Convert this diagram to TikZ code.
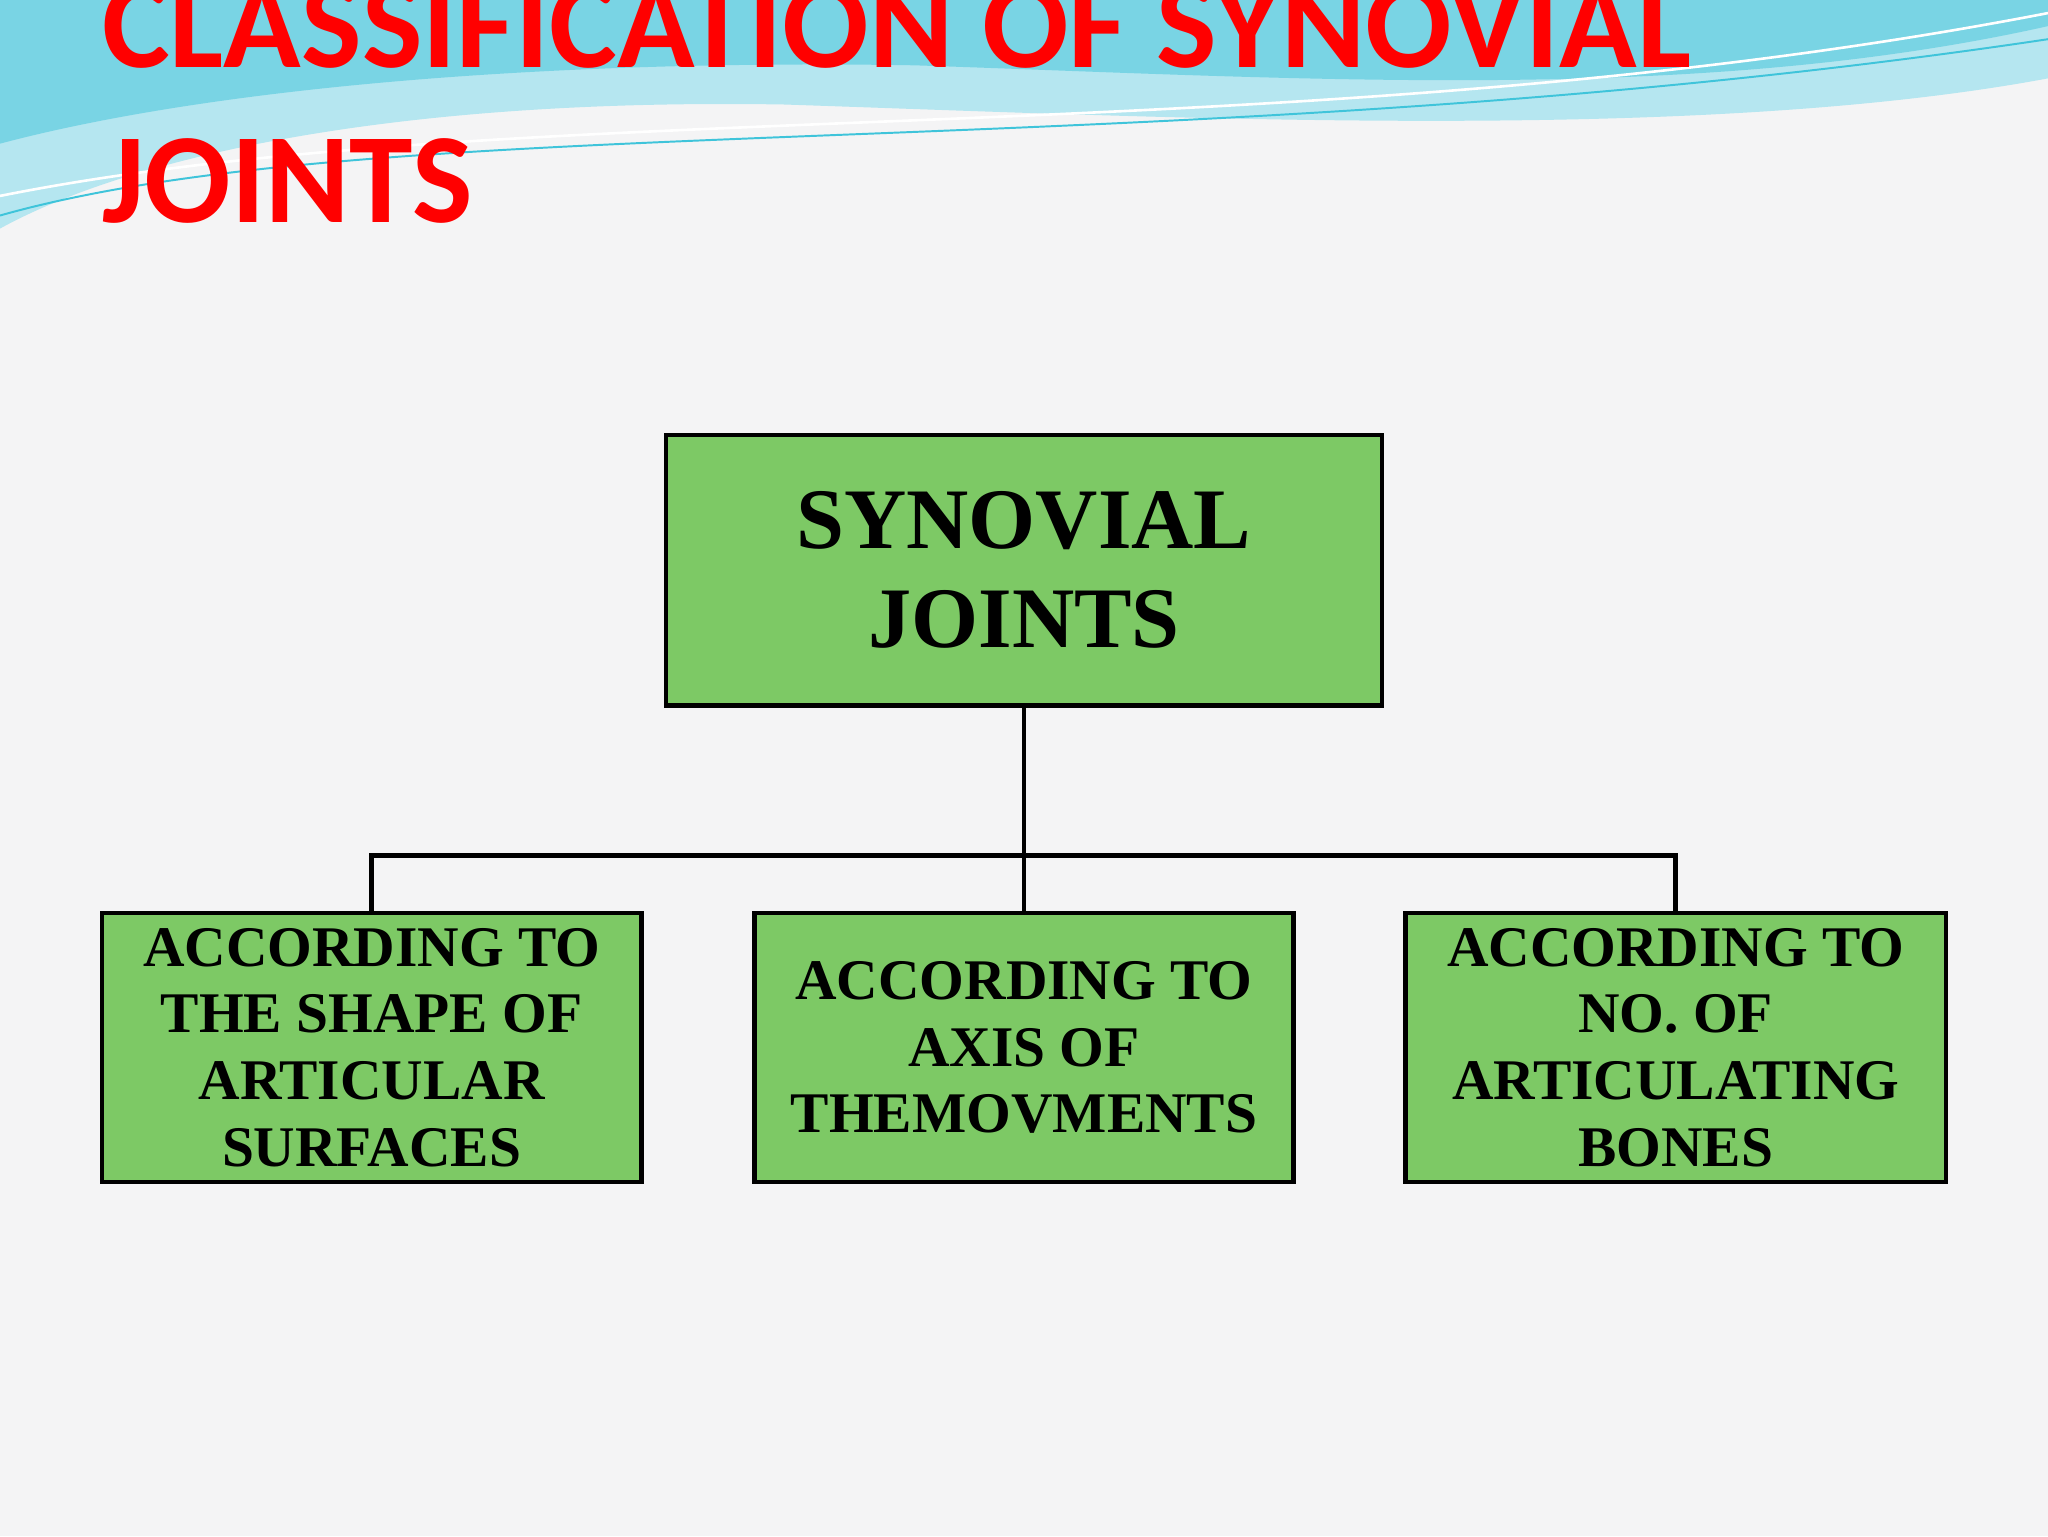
\documentclass[tikz,border=0pt]{standalone}
\usepackage{fontspec}
\setmainfont{Liberation Serif}
\newfontfamily\titlefont{Carlito}
\tikzset{
 box/.style={draw=black,line width=3.5pt,fill=boxgreen,align=center,inner sep=0pt,font=\bfseries\fontsize{44}{51}\selectfont},
 conn/.style={draw=black,line width=3.5pt}
}
\definecolor{boxgreen}{HTML}{7DC965}
\definecolor{bg}{HTML}{F4F4F5}
\definecolor{wave1}{HTML}{3FC4DA}
\definecolor{wave2}{HTML}{B5E6F0}
\begin{document}
\begin{tikzpicture}[x=1pt,y=-1pt]
\fill[bg] (0,0) rectangle (1568,1176);
\useasboundingbox (0,0) rectangle (1568,1176);
% top wave
\fill[wave2] (0,0) -- (1568,0) -- (1568,60) .. controls (1300,110) and (900,90) .. (600,80) .. controls (300,75) and (100,120) .. (0,175) -- cycle;
\fill[wave1,opacity=0.5] (0,0) -- (1568,0) -- (1568,20) .. controls (1300,80) and (1000,60) .. (700,50) .. controls (400,45) and (150,70) .. (0,110) -- cycle;
\draw[wave1,line width=1.5pt] (0,165) .. controls (300,80) and (900,130) .. (1568,30);
\draw[white,line width=2pt] (0,150) .. controls (400,70) and (1000,120) .. (1568,10);
% title
\node[anchor=base west,inner sep=0pt,text=red,font=\titlefont\bfseries\fontsize{98}{118}\selectfont] (t1) at (78,52) {CLASSIFICATION OF SYNOVIAL};
\node[anchor=base west,inner sep=0pt,text=red,font=\titlefont\bfseries\fontsize{98}{118}\selectfont] (t2) at (78,170) {JOINTS};
% boxes
\node[box,minimum width=548,minimum height=207,font=\bfseries\fontsize{66}{76}\selectfont] (top) at (784,436.5) {SYNOVIAL\\JOINTS};
\node[box,minimum width=413,minimum height=206] (b1) at (284.5,802) {ACCORDING TO\\THE SHAPE OF\\ARTICULAR\\SURFACES};
\node[box,minimum width=413,minimum height=206] (b2) at (784,802) {ACCORDING TO\\AXIS OF\\THEMOVMENTS};
\node[box,minimum width=414,minimum height=206] (b3) at (1283,802) {ACCORDING TO\\NO. OF\\ARTICULATING\\BONES};
\coordinate (j) at (784,655);
\draw[conn] (top.south) -- (j);
\draw[conn] (b1.north) |- (j) -| (b3.north);
\draw[conn] (j) -- (b2.north);
\end{tikzpicture}
\end{document}
